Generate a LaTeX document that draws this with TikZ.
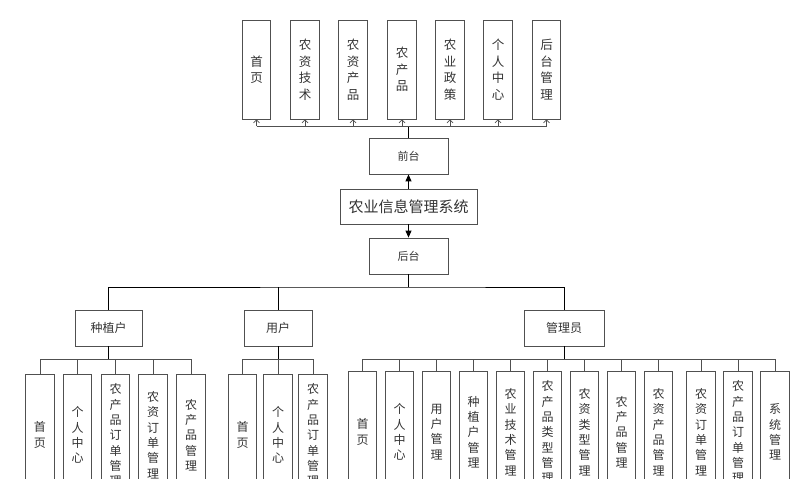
\documentclass[tikz,border=0pt]{standalone}
\usepackage{fontspec}
\setmainfont{Noto Sans CJK SC}
\usetikzlibrary{arrows.meta}

\definecolor{linegray}{HTML}{505050}
\definecolor{textgray}{HTML}{333333}

\tikzset{
	box/.style={draw=linegray, line width=0.8pt, fill=white, text=textgray,
		inner sep=0pt, align=center},
	topbox/.style={box, minimum width=28.5pt, minimum height=99pt,
		font=\fontsize{12.5}{16.5}\selectfont},
	midbox/.style={box, minimum width=79pt, minimum height=36pt,
		font=\fontsize{11}{13}\selectfont},
	rolebox/.style={box, minimum height=36pt, font=\fontsize{12}{14}\selectfont},
	leafbox/.style={box, minimum width=28.5pt, minimum height=122pt,
		font=\fontsize{12}{15.3}\selectfont},
	conn/.style={draw=linegray, line width=0.7pt},
	stem/.style={draw=black, line width=1pt},
}

\begin{document}
\begin{tikzpicture}[x=1pt,y=-1pt]

\path [use as bounding box] (0,0) rectangle (804,479);
\clip (0,0) rectangle (804,479);

% TOP LEVEL
\node [box, minimum width=137pt, minimum height=35pt,
	font=\fontsize{15}{17}\selectfont] (sys) at (408.5,206.5) {农业信息管理系统};
\node [midbox] (front) at (408.5,156) {前台};
\node [midbox] (back) at (408.5,256) {后台};

\draw [stem, -{Triangle[length=7pt,width=6pt]}] (sys) -- (front);
\draw [stem, -{Triangle[length=7pt,width=6pt]}] (sys) -- (back);

% FRONT PAGES
\foreach \n/\x/\txt in {
	p1/256.5/{首\\页},
	p2/305/{农\\资\\技\\术},
	p3/353/{农\\资\\产\\品},
	p4/402/{农\\产\\品},
	p5/450/{农\\业\\政\\策},
	p6/498/{个\\人\\中\\心},
	p7/546.5/{后\\台\\管\\理}}
	\node [topbox] (\n) at (\x,69.5) {\txt};

\coordinate (pbus) at (408.5,126);
\draw [stem] (front) -- (pbus);
\draw [conn] (p1.south |- pbus) -- (p7.south |- pbus);
\foreach \n in {p1,p2,p3,p4,p5,p6,p7}
	\draw [conn, -{Straight Barb[length=3pt,width=6pt]}] (\n.south |- pbus) -- (\n.south);

% ROLES
\node [rolebox, minimum width=67pt] (farmer) at (108.5,328) {种植户};
\node [rolebox, minimum width=68pt] (user) at (278,328) {用户};
\node [rolebox, minimum width=80pt] (admin) at (564,328) {管理员};

\coordinate (rbus) at (408.5,287);
\draw [stem] (back) -- (rbus);
\draw [stem] (farmer) |- (rbus) -| (admin);
\draw [stem] (user) -- (user.north |- rbus);

% FARMER PAGES
\foreach \n/\x/\txt in {
	f1/40/{首\\页},
	f2/77.5/{个\\人\\中\\心},
	f3/115.5/{农\\产\\品\\订\\单\\管\\理},
	f4/153/{农\\资\\订\\单\\管\\理},
	f5/191/{农\\产\\品\\管\\理}}
	\node [leafbox] (\n) at (\x,435) {\txt};

\coordinate (fbus) at (108.5,359);
\draw [stem] (farmer) -- (fbus);
\draw [conn] (f1.north |- fbus) -- (f5.north |- fbus);
\foreach \n in {f1,f2,f3,f4,f5}
	\draw [conn] (\n.north |- fbus) -- (\n.north);

% USER PAGES
\foreach \n/\x/\txt in {
	u1/242.5/{首\\页},
	u2/278/{个\\人\\中\\心},
	u3/313/{农\\产\\品\\订\\单\\管\\理}}
	\node [leafbox] (\n) at (\x,435) {\txt};

\coordinate (ubus) at (278,359);
\draw [stem] (user) -- (ubus);
\draw [conn] (u1.north |- ubus) -- (u3.north |- ubus);
\foreach \n in {u1,u2,u3}
	\draw [conn] (\n.north |- ubus) -- (\n.north);

% ADMIN PAGES
\foreach \n/\x/\txt in {
	a1/362.5/{首\\页},
	a2/399.5/{个\\人\\中\\心},
	a3/436.5/{用\\户\\管\\理},
	a4/473.5/{种\\植\\户\\管\\理},
	a5/510.5/{农\\业\\技\\术\\管\\理},
	a6/547.5/{农\\产\\品\\类\\型\\管\\理},
	a7/584.5/{农\\资\\类\\型\\管\\理},
	a8/621.5/{农\\产\\品\\管\\理},
	a9/658.5/{农\\资\\产\\品\\管\\理},
	a10/701/{农\\资\\订\\单\\管\\理},
	a11/738/{农\\产\\品\\订\\单\\管\\理},
	a12/775/{系\\统\\管\\理}}
	\node [leafbox] (\n) at (\x,432) {\txt};

\coordinate (abus) at (564,359);
\draw [stem] (admin) -- (abus);
\draw [conn] (a1.north |- abus) -- (a12.north |- abus);
\foreach \n in {a1,a2,a3,a4,a5,a6,a7,a8,a9,a10,a11,a12}
	\draw [conn] (\n.north |- abus) -- (\n.north);

\end{tikzpicture}
\end{document}
